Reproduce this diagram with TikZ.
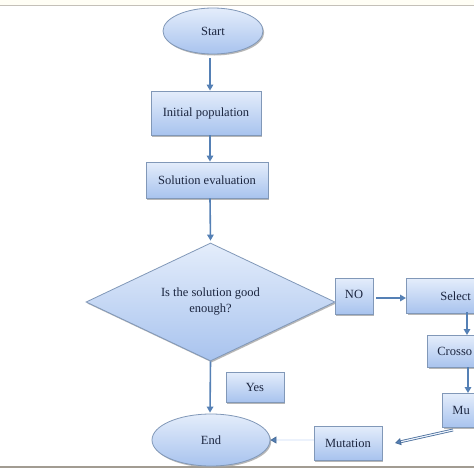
\documentclass[tikz,border=0pt]{standalone}
\usepackage{fontspec}
\setmainfont{Liberation Serif}
\usetikzlibrary{shapes.geometric,arrows.meta,shadows}
\definecolor{boxtop}{HTML}{E4EDFB}
\definecolor{boxbot}{HTML}{A8C3EE}
\definecolor{boxline}{HTML}{8198B8}
\definecolor{arrowc}{HTML}{5580B5}
\definecolor{txtc}{HTML}{1C2640}
\definecolor{frameline}{HTML}{C4C0B8}
\definecolor{frameline2}{HTML}{A29C92}
\tikzset{
  base/.style={draw=boxline, line width=0.8pt, top color=boxtop, bottom color=boxbot,
    text=txtc, font=\fontsize{12.5}{16}\selectfont,
    drop shadow={shadow xshift=1.2pt, shadow yshift=-1.5pt, fill=gray!70, opacity=0.8}},
  procbox/.style={base, rectangle, inner sep=0pt},
  termnode/.style={base, ellipse, inner sep=0pt},
  decnode/.style={base, diamond, aspect=2.11, inner sep=0pt, align=center},
  flow/.style={draw=arrowc, line width=1.6pt, -{Triangle[width=6.5pt,length=6pt]}},
  dflow/.style={draw=arrowc!85!black, double=boxtop!70!white, double distance=1.2pt, line width=0.8pt,
    -{Triangle[width=7pt,length=6pt,fill=arrowc]}},
}
\begin{document}
\begin{tikzpicture}[x=1pt,y=-1pt]
\useasboundingbox (0,0) rectangle (474,474);
\clip (0,0) rectangle (474,474);
\fill[white] (0,0) rectangle (474,474);
\fill[yellow!4] (0,0) rectangle (474,5);
\draw[frameline, line width=1.6pt] (0,5.5) -- (474,5.5);
\draw[frameline2, line width=2pt] (0,466.5) -- (474,466.5);

\node[termnode, minimum width=100pt, minimum height=46pt] (start) at (213,31) {Start};
\node[procbox, minimum width=110pt, minimum height=44pt] (init) at (206,113) {Initial population};
\node[procbox, minimum width=122pt, minimum height=36pt] (eval) at (207,180) {Solution evaluation};
\node[decnode, minimum width=249pt, minimum height=118pt] (dec) at (210.5,302) {Is the solution good\\enough?};
\node[procbox, minimum width=38pt, minimum height=36pt] (no) at (354,296) {NO\vphantom{g}\\[4pt]};
\node[procbox, anchor=north west, minimum height=35pt, text width=60pt, inner xsep=34pt, align=left] (sel) at (406,278) {Select};
\node[procbox, anchor=north west, minimum height=32pt, text width=60pt, inner xsep=10pt, align=left] (cross) at (427,335) {Crosso};
\node[procbox, anchor=north west, minimum height=34pt, text width=60pt, inner xsep=10pt, align=left] (mu) at (442,393) {Mu};
\node[procbox, minimum width=68pt, minimum height=34pt] (mut) at (348,443) {Mutation\\[4pt]};
\node[termnode, minimum width=118pt, minimum height=52pt] (end) at (211,440) {End};
\node[procbox, minimum width=58pt, minimum height=30pt] (yes) at (255,387) {Yes};

\draw[flow] (start.south -| 210,0) ++(0,4) -- (init.north -| 210,0);
\draw[flow] (init.south -| 210,0) -- (eval.north -| 210,0);
\draw[flow] (eval.south -| 210,0) -- ([yshift=2pt]dec.north);
\draw[flow] (dec.south) -- ([yshift=1pt]end.north -| 210,0);
\coordinate (noA) at (376,298);
\draw[flow] (noA) -- (sel.west |- noA);
\coordinate (selA) at (467,312);
\draw[flow] (selA) -- (cross.north -| selA);
\coordinate (crA) at (468,367);
\draw[flow] (crA) -- (mu.north -| crA);
\coordinate (muA) at (453,430);
\coordinate (mutA) at (395,443);
\draw[dflow] (muA) -- (mutA);
\draw[dflow] (mut.west |- 0,440) -- (end.east |- 0,440);
\end{tikzpicture}
\end{document}
